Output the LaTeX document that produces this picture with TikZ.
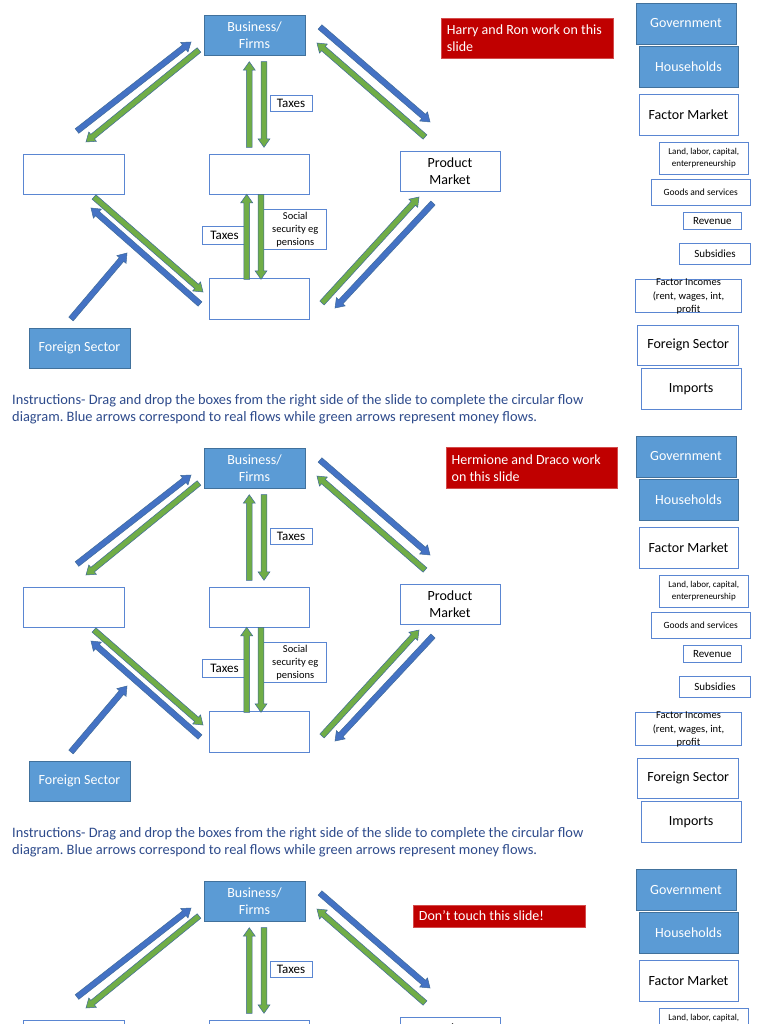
\documentclass[tikz,border=0pt]{standalone}
\usepackage{fontspec}
\setmainfont{Carlito}
\frenchspacing
\usetikzlibrary{calc}
\definecolor{fillblue}{HTML}{5B9BD5}
\definecolor{edgeblue}{HTML}{41719C}
\definecolor{thinblue}{HTML}{5A86D2}
\definecolor{flowblue}{HTML}{4472C4}
\definecolor{flowgreen}{HTML}{70AD47}
\definecolor{flowedge}{HTML}{3F6A9A}
\definecolor{warnred}{HTML}{C00000}
\definecolor{instrcol}{HTML}{2E4B8C}
\newcommand{\flowarrow}[3]{%
  \coordinate (hb) at ($(#3)!8.5pt!(#2)$);
  \filldraw[#1] ($(#2)!2.9pt!90:(#3)$) -- ($(hb)!2.9pt!-90:(#2)$) -- ($(hb)!6pt!-90:(#2)$) -- (#3)
    -- ($(hb)!6pt!90:(#2)$) -- ($(hb)!2.9pt!90:(#2)$) -- ($(#2)!2.9pt!-90:(#3)$) -- cycle;
}
\tikzset{
  bluearr/.style={fill=flowblue, draw=flowedge, line width=0.5pt},
  greenarr/.style={fill=flowgreen, draw=flowedge, line width=0.5pt},
  solidbox/.style={draw=edgeblue, fill=fillblue, text=white, line width=0.8pt, inner sep=0pt, align=center, font=\fontsize{14}{17}\selectfont},
  openbox/.style={draw=thinblue, fill=white, line width=0.8pt, inner sep=0pt, align=center, text=black},
  wh/.style 2 args={minimum width=#1pt, minimum height=#2pt},
  redbox/.style={fill=warnred, draw=warnred!70!white, line width=0.5pt, inner sep=0pt},
  redtext/.style={anchor=west, inner sep=0pt, text=white, align=left, font=\fontsize{14}{17}\selectfont},
  big/.style={font=\fontsize{14}{17}\selectfont},
}
\begin{document}
\begin{tikzpicture}[x=1pt, y=-1pt]
\path[use as bounding box] (0,0) rectangle (768,1024);
\clip (0,0) rectangle (768,1024);
\fill[white] (0,0) rectangle (768,1024);
\foreach \i/\o in {1/0,2/433,3/866}{
\begin{scope}[shift={(0,\o)}]
  % upper part of the diagram (visible on all three slides)
  \node[solidbox, wh={101}{40}] (bf\i) at (254.5,35) {Business/\\Firms};
  \node[openbox, wh={101}{40}] (lm\i) at (73.5,174) {};
  \node[openbox, wh={100}{40}] (gv\i) at (259,174) {};
  \node[openbox, wh={100}{40}, big] (pm\i) at (450,171) {Product\\Market};
  \node[openbox, wh={42}{16}, font=\fontsize{13}{15}\selectfont] (tx\i) at (291,103) {Taxes};
  \coordinate (a1s\i) at (77,131);   \coordinate (a1e\i) at (191,42);
  \coordinate (a2s\i) at (199,50);   \coordinate (a2e\i) at (86,142);
  \coordinate (a3s\i) at (249.3,147.3); \coordinate (a3e\i) at (249.3,61.7);
  \coordinate (a4s\i) at (264,61.7); \coordinate (a4e\i) at (264,147.3);
  \coordinate (a5s\i) at (320,27);   \coordinate (a5e\i) at (430,122);
  \coordinate (a6s\i) at (425,137);  \coordinate (a6e\i) at (317,43);
  \flowarrow{bluearr}{a1s\i}{a1e\i}
  \flowarrow{greenarr}{a2s\i}{a2e\i}
  \flowarrow{greenarr}{a3s\i}{a3e\i}
  \flowarrow{greenarr}{a4s\i}{a4e\i}
  \flowarrow{bluearr}{a5s\i}{a5e\i}
  \flowarrow{greenarr}{a6s\i}{a6e\i}
  % red label
  \ifcase\i\or
    \node[redbox, wh={172}{40}] (rl\i) at (527,38.3) {};
    \node[redtext] (rt\i) at ([xshift=6pt]rl\i.west) {Harry and Ron work on this\\slide};
  \or
    \node[redbox, wh={171}{41}] (rl\i) at (531.5,34.8) {};
    \node[redtext] (rt\i) at ([xshift=5.7pt]rl\i.west) {Hermione and Draco work\\on this slide};
  \or
    \node[redbox, wh={172}{22}] (rl\i) at (499,50) {};
    \node[redtext] (rt\i) at ([xshift=6pt]rl\i.west) {Don't touch this slide!};
  \fi
  % right column, top
  \node[solidbox, wh={100}{41}] (rg\i) at (686,23.5) {Government};
  \node[solidbox, wh={99}{41}] (rh\i) at (688.5,67) {Households};
  \node[openbox, wh={99}{41}, big] (rf\i) at (688.5,114.7) {Factor Market};
  \node[openbox, wh={89}{32}, font=\fontsize{9}{11.3}\selectfont] (rl2\i) at (703.8,158) {Land, labor, capital,\\enterpreneurship};
  \ifnum\i<3
  % lower part of the diagram (cut off on the third slide)
  \node[openbox, wh={100}{41}] (hh\i) at (259,298.5) {};
  \node[solidbox, wh={101}{40}] (fs\i) at (79.5,348) {Foreign Sector};
  \node[openbox, wh={44}{18}, font=\fontsize{13}{15}\selectfont] (ty\i) at (224.5,235) {Taxes};
  \node[openbox, wh={63}{40}, font=\fontsize{10.5}{13}\selectfont] (ss\i) at (295.3,229.3) {Social\\security eg\\pensions};
  \coordinate (a7s\i) at (94,197);   \coordinate (a7e\i) at (203,292);
  \coordinate (a8s\i) at (200,304);  \coordinate (a8e\i) at (91,208);
  \coordinate (a9s\i) at (71,319);   \coordinate (a9e\i) at (127,253);
  \coordinate (a10s\i) at (246.7,279.3); \coordinate (a10e\i) at (246.7,194.3);
  \coordinate (a11s\i) at (261,194.3); \coordinate (a11e\i) at (261,279.3);
  \coordinate (a12s\i) at (322,303); \coordinate (a12e\i) at (419,197);
  \coordinate (a13s\i) at (433,203); \coordinate (a13e\i) at (335,308);
  \flowarrow{greenarr}{a7s\i}{a7e\i}
  \flowarrow{bluearr}{a8s\i}{a8e\i}
  \flowarrow{bluearr}{a9s\i}{a9e\i}
  \flowarrow{greenarr}{a10s\i}{a10e\i}
  \flowarrow{greenarr}{a11s\i}{a11e\i}
  \flowarrow{greenarr}{a12s\i}{a12e\i}
  \flowarrow{bluearr}{a13s\i}{a13e\i}
  \node[anchor=north west, inner sep=0pt, align=left, text=instrcol, font=\fontsize{14.4}{17}\selectfont] (in\i) at (12,394.5)
    {Instructions- Drag and drop the boxes from the right side of the slide to complete the circular flow\\diagram. Blue arrows correspond to real flows while green arrows represent money flows.};
  \node[openbox, wh={99}{26}, font=\fontsize{9.5}{11}\selectfont] (rs\i) at (700.7,192.5) {Goods and services};
  \node[openbox, wh={58}{16.7}, font=\fontsize{11}{13}\selectfont] (rv\i) at (712.3,221) {Revenue};
  \node[openbox, wh={71}{21}, font=\fontsize{11}{13}\selectfont] (rb\i) at (715,253.8) {Subsidies};
  \node[openbox, wh={105.6}{32.7}] (ri\i) at (688.5,295.7) {};
  \node[inner sep=0pt, align=center, font=\fontsize{10.5}{13.5}\selectfont] (rit\i) at (688.5,296.5) {Factor Incomes\\(rent, wages, int,\\profit};
  \node[openbox, wh={101}{40.7}, big] (re\i) at (688.2,345.3) {Foreign Sector};
  \node[openbox, wh={100}{41}, big] (rm\i) at (691.2,388.8) {Imports};
  \fi
\end{scope}
}
\end{tikzpicture}
\end{document}
